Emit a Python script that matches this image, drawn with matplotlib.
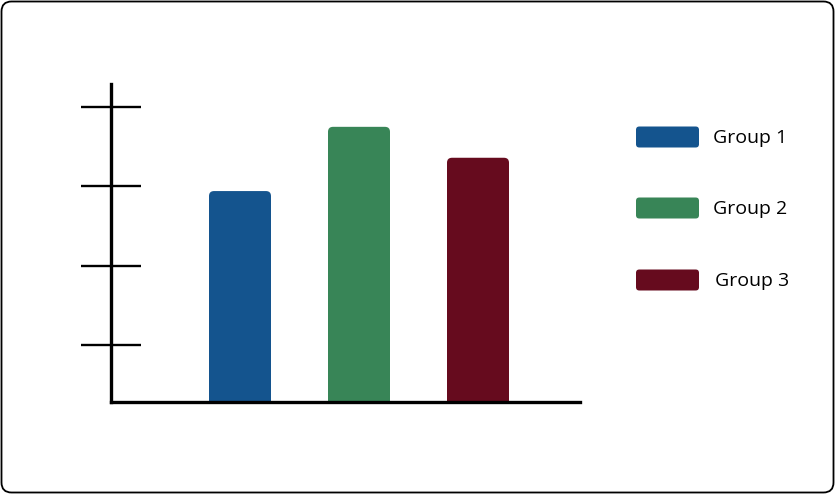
import matplotlib
matplotlib.use("Agg")
import matplotlib.pyplot as plt
from matplotlib.patches import FancyBboxPatch, Rectangle

categories = ["Group 1", "Group 2", "Group 3"]
values = [2.66, 3.47, 3.08]
colors = ["#14548E", "#388557", "#660B1E"]
y_ticks = [0.72, 1.72, 2.72, 3.72]

W, H = 835, 494
fig = plt.figure(figsize=(W / 100, H / 100), dpi=100)
plt.rcParams['font.family'] = ['Open Sans', 'DejaVu Sans']

# outer rounded border
border = FancyBboxPatch((1.5 / W, 1.5 / H), (W - 3) / W, (H - 3) / H,
                        boxstyle="round,pad=0,rounding_size=0.012",
                        mutation_aspect=W / H,
                        transform=fig.transFigure, fill=False,
                        edgecolor="black", linewidth=1.3)
fig.patches.append(border)

# main axes
ax_l, ax_r, ax_t, ax_b = 111, 580, 84, 402
ax = fig.add_axes([ax_l / W, (H - ax_b) / H, (ax_r - ax_l) / W, (ax_b - ax_t) / H])
ax.set_facecolor("none")
xpx = 119.0
ypx = 79.3
x0 = 240
ax.set_xlim(-(x0 - ax_l) / xpx, -(x0 - ax_l) / xpx + (ax_r - ax_l) / xpx)
ax.set_ylim(0, (ax_b - ax_t) / ypx)

bw = 62 / xpx
bars = ax.bar(range(len(categories)), values, width=bw, color=colors)
r = 5 / xpx
asp = xpx / ypx
for b, c in zip(bars, colors):
    b.set_visible(False)
    x, y, w, h = b.get_x(), b.get_y(), b.get_width(), b.get_height()
    ax.add_patch(FancyBboxPatch((x, y), w, h,
                                boxstyle=f"round,pad=0,rounding_size={r}",
                                mutation_aspect=asp, facecolor=c, edgecolor="none"))
    ax.add_patch(Rectangle((x, y), w, h / 2, facecolor=c, edgecolor="none"))

for s in ["top", "right"]:
    ax.spines[s].set_visible(False)
for s in ["left", "bottom"]:
    ax.spines[s].set_linewidth(2.4)
    ax.spines[s].set_capstyle("projecting")
ax.set_xticks([])
ax.set_yticks(y_ticks)
ax.set_yticklabels([])
ax.tick_params(axis="y", direction="inout", length=43, width=1.7, color="black")

# legend
lx, lw_, lh = 636, 63, 21
rows = [137, 208, 280]
text_x = [713, 713, 715]
for lab, c, cy, tx in zip(categories, colors, rows, text_x):
    p = FancyBboxPatch((lx / W, (H - cy - lh / 2) / H), lw_ / W, lh / H,
                       boxstyle="round,pad=0,rounding_size=0.004",
                       mutation_aspect=W / H,
                       transform=fig.transFigure, facecolor=c, edgecolor="none")
    fig.patches.append(p)
    fig.text(tx / W, (H - cy - 6) / H, lab, fontsize=14, va="baseline", ha="left",
             color="#000000")

fig.savefig("out.png", dpi=100)
